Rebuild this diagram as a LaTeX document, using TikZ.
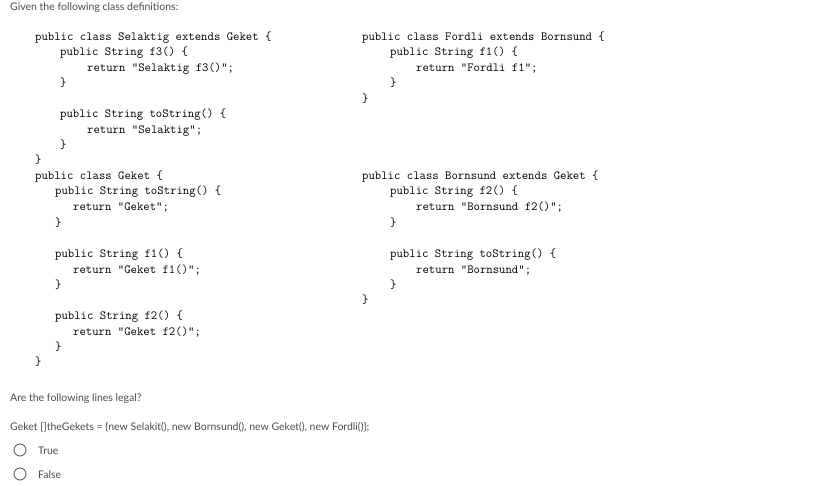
\documentclass[tikz,border=0pt]{standalone}
\usepackage{fontspec}
\setmainfont{Lato}
\definecolor{txt}{HTML}{494C4E}
\begin{document}
\begin{tikzpicture}[x=1pt,y=-1pt,
  code/.style={anchor=base west,inner sep=0pt,font=\ttfamily\fontsize{12.4}{14}\selectfont,text=black},
  prose/.style={anchor=base west,inner sep=0pt,font=\fontsize{10.5}{12}\selectfont,text=txt},
  radio/.style={circle,draw=txt,line width=0.8pt,minimum size=12pt,inner sep=0pt}]
\useasboundingbox (0,0) rectangle (837,486);
\node[prose] (t0) at (10,11) {Given the following class definitions:};
% left column
\foreach \x/\y/\s [count=\i] in {
 35/41/{public class Selaktig extends Geket \{},
 60/56/{public String f3() \{},
 87/72/{return "Selaktig f3()";},
 60/87/{\}},
 60/118/{public String toString() \{},
 87/134/{return "Selaktig";},
 60/149/{\}},
 35/164/{\}},
 35/180/{public class Geket \{},
 55/195/{public String toString() \{},
 73/211/{return "Geket";},
 55/226/{\}},
 55/257/{public String f1() \{},
 73/273/{return "Geket f1()";},
 55/288/{\}},
 55/319/{public String f2() \{},
 73/335/{return "Geket f2()";},
 55/350/{\}},
 35/365/{\}}}
 \node[code] (l\i) at (\x,\y) {\s};
% right column
\foreach \x/\y/\s [count=\i] in {
 362/41/{public class Fordli extends Bornsund \{},
 390/56/{public String f1() \{},
 416/72/{return "Fordli f1";},
 390/87/{\}},
 362/103/{\}},
 362/180/{public class Bornsund extends Geket \{},
 390/195/{public String f2() \{},
 416/211/{return "Bornsund f2()";},
 390/226/{\}},
 390/257/{public String toString() \{},
 416/273/{return "Bornsund";},
 390/288/{\}},
 362/303/{\}}}
 \node[code] (r\i) at (\x,\y) {\s};
\node[prose] (q) at (10,401) {Are the following lines legal?};
\node[prose] (g) at (10,430) {Geket []theGekets = \{new Selakit(), new Bornsund(), new Geket(), new Fordli()\};};
\node[radio] (c1) at (20,450) {};
\node[radio] (c2) at (20,474) {};
\node[prose] (o1) at (38,454) {True};
\node[prose] (o2) at (38,478) {False};
\end{tikzpicture}
\end{document}
